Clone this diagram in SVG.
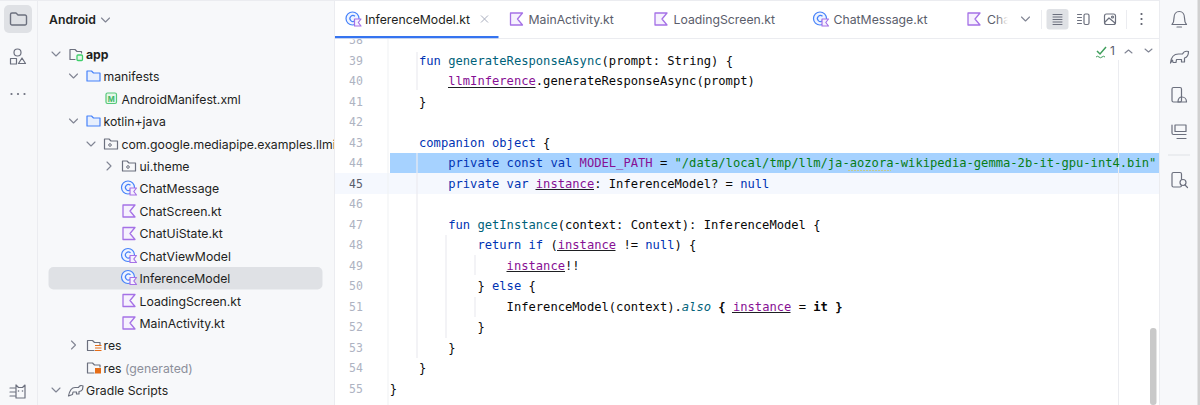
<svg xmlns="http://www.w3.org/2000/svg" width="1200" height="405" viewBox="0 0 1200 405">
<style>
.t{font:12.25px Inter,"Noto Sans",sans-serif;fill:#1e1f22}
.tab{font:12.25px Inter,"Noto Sans",sans-serif;fill:#5a5d6b}
.c{font:12.13px "DejaVu Sans Mono","Liberation Mono",monospace;fill:#080808;white-space:pre}
.n{font:11.5px "DejaVu Sans Mono","Liberation Mono",monospace;fill:#aeb3c2}
.k{fill:#0033b3}.f{fill:#00627a}.p{fill:#871094}.s{fill:#067d17}
.i{fill:none;stroke:#6c707e;stroke-width:1.2;stroke-linecap:round;stroke-linejoin:round}
.a{fill:none;stroke:#818594;stroke-width:1.1;stroke-linecap:round;stroke-linejoin:round}
.g{stroke:#ebecf0;stroke-width:1.2}
.u{stroke:#1e1f22;stroke-width:1}
</style>
<defs>
<linearGradient id="fade" x1="0" x2="1"><stop offset="0" stop-color="#fff" stop-opacity="0"/><stop offset="1" stop-color="#fff"/></linearGradient>
<clipPath id="panel"><rect x="38" y="40" width="296" height="365"/></clipPath>
<clipPath id="ed"><rect x="335" y="38.5" width="824" height="367"/></clipPath>
<g id="kt"><path d="M-6-6H6L1 0 6 6H-6Z" fill="#f6f1fe" stroke="#a571e6" stroke-width="1.3" stroke-linejoin="round"/></g>
<g id="cls"><circle cx="-1" cy="-1" r="6.5" fill="#eff4ff" stroke="#4682fa" stroke-width="1.2"/><path d="M1.5-3.2A3 3 0 1 0 1.500 1.200" fill="none" stroke="#4682fa" stroke-width="1.2"/><path d="M1-0.5H7.500L4.800 3 7.500 6.500H1Z" fill="#f6f1fe" stroke="#a571e6" stroke-width="1.2" stroke-linejoin="round"/></g>
<path id="folder" d="M-6.500-5H-2L0-3H6.500V5H-6.500Z" fill="#e7effd" stroke="#4682fa" stroke-width="1.2" stroke-linejoin="round"/>
<g id="pkg"><path d="M-6.500-5H-2L0-3H6.500V5H-6.500Z" fill="#f7f8fa" stroke="#6c707e" stroke-width="1.2" stroke-linejoin="round"/><circle cx="-1" cy="1" r="1.3" fill="none" stroke="#6c707e"/></g>
<path id="down" d="M-4-2 0 2 4-2" class="a"/>
<path id="right" d="M-2-4 2 0-2 4" class="a"/>
</defs>
<rect width="1200" height="405" fill="#fff"/>
<g id="left-stripe">
<rect width="37" height="405" fill="#f7f8fa"/><rect x="37" width="1" height="405" fill="#ebecf0"/>
<rect x="4" y="5" width="28" height="28" rx="5" fill="#dfe1e5"/>
<path class="i" d="M10.500 14.500a1.500 1.500 0 0 1 1.500-1.500h4l2 2h7a1.500 1.500 0 0 1 1.500 1.500v7a1.500 1.500 0 0 1-1.500 1.500h-13a1.500 1.500 0 0 1-1.500-1.500z" style="stroke-width:1.4"/>
<circle class="i" cx="17.500" cy="52.500" r="3.500"/><rect class="i" x="10.500" y="58.500" width="6" height="5.500"/><path class="i" d="M22 58l3.500 5.500h-7z"/>
<g fill="#6c707e"><circle cx="11.500" cy="94" r="1.100"/><circle cx="18" cy="94" r="1.100"/><circle cx="24.500" cy="94" r="1.100"/></g>
<path class="i" d="M10 388h5M10 392h5M10 396h5M16 386v12h9v-13l-2.500 2.500h-4l-2.500-2.500z"/><circle cx="18.500" cy="391" r=".8" fill="#6c707e"/><circle cx="22.500" cy="391" r=".8" fill="#6c707e"/>
</g>
<g id="project-panel">
<rect x="38" width="296" height="405" fill="#f7f8fa"/><rect x="334" width="1" height="405" fill="#ebecf0"/>
<rect x="0" width="1200" height="1" fill="#ebecf0"/>
<text x="49" y="24" style="font:600 12.250px Inter,sans-serif;fill:#1e1f22">Android</text>
<use href="#down" x="105.500" y="20"/>
<rect x="48.500" y="267" width="274" height="22.500" rx="5" fill="#dfe1e5"/>
<g clip-path="url(#panel)">
<use href="#down" x="56" y="54"/><use href="#down" x="73.500" y="76"/><use href="#down" x="73.500" y="121"/><use href="#down" x="91" y="144"/><use href="#right" x="109" y="166"/><use href="#right" x="73.500" y="345"/><use href="#down" x="56" y="390"/>
<path d="M70 54V49.500H75L77 51.500H81.500V53M75 59.500H70V54" class="i"/><rect x="77" y="55" width="5.500" height="5.500" rx="1" fill="#e6f7e9" stroke="#3fcf6b" stroke-width="1.300"/>
<use href="#folder" x="93.500" y="76"/>
<use href="#folder" x="93.500" y="121"/>
<rect x="106" y="93" width="10.500" height="10.500" rx="1.500" fill="#e6f7e9" stroke="#55c97a" stroke-width="1.200"/><text x="111.200" y="101.500" text-anchor="middle" style="font:700 7.500px Inter,sans-serif;fill:#3fb768">M</text>
<use href="#pkg" x="111" y="144"/><use href="#pkg" x="129" y="166"/>
<use href="#cls" x="129" y="188.500"/><use href="#kt" x="129" y="211"/><use href="#kt" x="129" y="233.500"/><use href="#cls" x="129" y="256"/><use href="#cls" x="129" y="278"/><use href="#kt" x="129" y="300.500"/><use href="#kt" x="129" y="323"/>
<path class="i" d="M94 350.500H87.500V340.500H92.500L94.500 342.500H100V344.500"/><path d="M95 345.500h6.500M95 348h6.500M95 350.500h6.500" stroke="#e66d17" stroke-width="1.200"/>
<path class="i" d="M94 373H87.500V363H92.500L94.500 365H100V367"/><rect x="95" y="368" width="6" height="5.500" fill="#e66d17"/>
<path class="i" d="M68.500 396c1-5 2.500-8.500 6.500-8.500h3.500c1-2 3-2.500 4.500-1.500l-.5 3.500c-1 1.500-2 2-3.500 2v2.500h-2.500v-2h-3.500l-.5 2.500z"/>
<text class="t" x="86" y="59" style="font-weight:700">app</text>
<text class="t" x="103.500" y="81">manifests</text>
<text class="t" x="121.500" y="103.500">AndroidManifest.xml</text>
<text class="t" x="103.500" y="126">kotlin+java</text>
<text class="t" x="121.500" y="148.500">com.google.mediapipe.examples.llmi</text>
<text class="t" x="139.500" y="171">ui.theme</text>
<text class="t" x="139.500" y="193">ChatMessage</text>
<text class="t" x="139.500" y="215.500">ChatScreen.kt</text>
<text class="t" x="139.500" y="238">ChatUiState.kt</text>
<text class="t" x="139.500" y="260.500">ChatViewModel</text>
<text class="t" x="139.500" y="283">InferenceModel</text>
<text class="t" x="139.500" y="305.500">LoadingScreen.kt</text>
<text class="t" x="139.500" y="327.500">MainActivity.kt</text>
<text class="t" x="103.500" y="350">res</text>
<text class="t" x="103.500" y="372.500">res <tspan fill="#8c8f9a">(generated)</tspan></text>
<text class="t" x="86" y="395">Gradle Scripts</text>
</g>
</g>
<g id="editor">
<rect x="335" y="173" width="824" height="21" fill="#f5f8fe"/>
<rect x="390" y="153" width="769" height="20" fill="#a6d2ff"/>
<rect x="387.500" y="38" width="1" height="367" fill="#f0f1f4"/>
<path class="g" d="M417 52V90M417 153V358M446 235V338M475 255V275M475 297V317"/>
<path d="M1118.500 60V405" stroke="#ebecf0"/>
<g clip-path="url(#ed)">
<g class="n" text-anchor="start">
<text x="349" y="44">38</text><text x="349" y="64.500">39</text><text x="349" y="85">40</text><text x="349" y="105.500">41</text><text x="349" y="126">42</text><text x="349" y="146.500">43</text><text x="349" y="167">44</text><text x="349" y="187.500" fill="#5a5d6b">45</text><text x="349" y="208">46</text><text x="349" y="228.500">47</text><text x="349" y="249">48</text><text x="349" y="269.500">49</text><text x="349" y="290">50</text><text x="349" y="310.500">51</text><text x="349" y="331">52</text><text x="349" y="351.500">53</text><text x="349" y="372">54</text><text x="349" y="392.500">55</text>
</g>
<text class="c" x="419" y="64.500"><tspan class="k">fun</tspan> <tspan class="f">generateResponseAsync</tspan>(prompt: String) {</text>
<text class="c" x="448.200" y="85"><tspan class="p">llmInference</tspan>.generateResponseAsync(prompt)</text>
<text class="c" x="419" y="105.500">}</text>
<text class="c" x="419" y="146.500"><tspan class="k">companion object</tspan> {</text>
<text class="c" x="448.200" y="167"><tspan class="k">private const val</tspan> <tspan class="p">MODEL_PATH</tspan> = <tspan class="s">"/data/local/tmp/llm/ja-aozora-wikipedia-gemma-2b-it-gpu-int4.bin"</tspan></text>
<text class="c" x="448.200" y="187.500"><tspan class="k">private var</tspan> <tspan class="p">instance</tspan>: InferenceModel? = <tspan class="k">null</tspan></text>
<text class="c" x="448.200" y="228.500"><tspan class="k">fun</tspan> <tspan class="f">getInstance</tspan>(context: Context): InferenceModel {</text>
<text class="c" x="477.400" y="249"><tspan class="k">return if</tspan> (<tspan class="p">instance</tspan> != <tspan class="k">null</tspan>) {</text>
<text class="c" x="506.600" y="269.500"><tspan class="p">instance</tspan>!!</text>
<text class="c" x="477.400" y="290">} <tspan class="k">else</tspan> {</text>
<text class="c" x="506.600" y="310.500">InferenceModel(context).<tspan class="f" font-style="italic">also</tspan> <tspan font-weight="700">{</tspan> <tspan class="p">instance</tspan> = <tspan font-weight="700">it }</tspan></text>
<text class="c" x="477.400" y="331">}</text>
<text class="c" x="448.200" y="351.500">}</text>
<text class="c" x="419" y="372">}</text>
<text class="c" x="389.800" y="392.500">}</text>
<path class="u" d="M448 87.500H535.500M535.500 189.500H594M557 250.500H615.500M506.500 271.500H565M732 312.500H790.500"/>
<path d="M848 170.500H891" stroke="#c9c96f" stroke-width=".8" stroke-dasharray="2 1"/>
</g>
<rect x="1150" y="328" width="6.500" height="77" rx="3" fill="#c9c9c9"/>
<path d="M1097 51l3 3 6-7" fill="none" stroke="#3f9e5b" stroke-width="1.500"/><path d="M1096 57q1.500-1.500 3 0t3 0 3 0" fill="none" stroke="#3f9e5b"/>
<text x="1110" y="55" style="font:12px Inter,sans-serif;fill:#5a5d6b">1</text>
<path class="a" d="M1125 53l3.500-3 3.500 3M1145 49l3.500 3 3.500-3"/>
</g>
<g id="tabs">
<rect x="335" y="1" width="865" height="37" fill="#fff"/>
<rect x="335" y="38" width="824" height="1" fill="#ebecf0"/>
<rect x="335" y="36" width="163.500" height="2.200" fill="#3574f0"/>
<use href="#cls" x="353.500" y="19.500"/>
<text class="t" x="365" y="24">InferenceModel.kt</text>
<path d="M481 15.500l7 7M488 15.500l-7 7" stroke="#a8adbd" stroke-width="1"/>
<use href="#kt" x="516.500" y="19"/><text class="tab" x="528.500" y="24">MainActivity.kt</text>
<use href="#kt" x="661" y="19"/><text class="tab" x="673.500" y="24">LoadingScreen.kt</text>
<use href="#cls" x="821" y="19.500"/><text class="tab" x="833.500" y="24">ChatMessage.kt</text>
<use href="#kt" x="974" y="19"/><text class="tab" x="987" y="24">Cha</text>
<rect x="996" y="8" width="12" height="22" fill="url(#fade)"/><rect x="1008" y="8" width="12" height="22" fill="#fff"/>
<use href="#down" x="1025.500" y="19"/>
<rect x="1041" y="10" width="1" height="19" fill="#ebecf0"/>
<rect x="1046.500" y="9" width="22" height="20.500" rx="3" fill="#dfe1e5"/>
<path class="i" d="M1053 14.500h9M1053 17h9M1053 19.500h9M1053 22h9M1053 24.500h9" style="stroke-width:1"/>
<path class="i" d="M1077.500 14.500h4M1077.500 17.500h4M1077.500 20.500h4M1077.500 23.500h4" style="stroke-width:1"/><rect class="i" x="1084" y="14" width="5" height="10.500" rx="1.500"/>
<rect class="i" x="1104.500" y="14" width="11" height="10.500" rx="2"/><path class="i" d="M1105 22l4-4 6 5"/><circle class="i" cx="1112.500" cy="17" r="1"/>
<rect x="1126" y="10" width="1" height="19" fill="#ebecf0"/>
<g fill="#5a5d6b"><circle cx="1141.500" cy="14" r="1.100"/><circle cx="1141.500" cy="19" r="1.100"/><circle cx="1141.500" cy="24" r="1.100"/></g>
</g>
<g id="right-stripe">
<rect x="1159" y="0" width="41" height="405" fill="#f7f8fa"/><rect x="1159" width="1" height="405" fill="#ebecf0"/>
<rect x="1197.500" width="2.500" height="405" fill="#d0d0d0"/>
<path class="i" d="M1172 24.500h14.500c-1.500-1.500-2-3-2-6.500 0-3.500-2-6.500-5.250-6.500s-5.250 3-5.250 6.500c0 3.500-.5 5-2 6.500zM1177 27h4.500"/>
<path class="i" d="M1170.500 63c.5-5 3-9 8-9h4c1.500-3 4-3 6-2.500 0 3-.5 5.500-4 6.500v4h-3v-2.500h-5l-.5 3h-3l-.5-2.500z"/>
<rect class="i" x="1172" y="87.500" width="9.500" height="14.500" rx="1.500"/><path class="i" d="M1178 102h8.500c0-3-2-5-4.500-5s-4 2-4 5z"/>
<path class="i" d="M1172 125v8a1.500 1.500 0 0 0 1.500 1.500H1186M1175 125h11v6.500h-11zM1177 138.500h9"/>
<rect x="1168" y="154.500" width="22" height="1" fill="#dfe1e5"/>
<rect class="i" x="1172" y="172.500" width="9.500" height="14.500" rx="1.500"/><circle cx="1183" cy="182.500" r="3" fill="#f7f8fa" stroke="#6c707e" stroke-width="1.200"/><path class="i" d="M1185 185l2.500 2.500"/>
</g>
</svg>
